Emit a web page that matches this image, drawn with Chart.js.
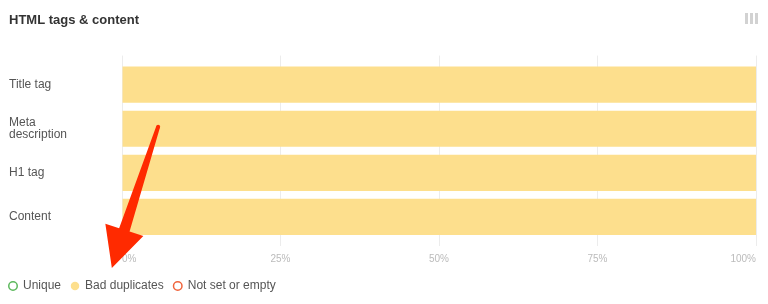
<!DOCTYPE html>
<html>
<head>
<meta charset="utf-8">
<title>HTML tags & content</title>
<script src="https://cdn.jsdelivr.net/npm/chart.js@4.4.1/dist/chart.umd.min.js"></script>
<style>
  body { margin: 0; background: #fff; }
  #wrap { position: relative; width: 768px; height: 304px; }
  .colIcon { position: absolute; top: 13px; width: 3px; height: 11px; background: #d2d2d2; }
</style>
</head>
<body>
<div id="wrap">
  <canvas id="tagsChart" width="768" height="304"></canvas>
  <!-- icone de colunas no canto -->
  <div class="colIcon" style="left:745px"></div>
  <div class="colIcon" style="left:750px"></div>
  <div class="colIcon" style="left:755px"></div>
</div>
<script>
// Dados do grafico
const categories = ['Title tag', ['Meta', 'description'], 'H1 tag', 'Content'];
const uniqueValues = [0, 0, 0, 0];
const badDuplicateValues = [100, 100, 100, 100];
const notSetValues = [0, 0, 0, 0];
const tickStep = 25; // 0%, 25%, 50%, 75%, 100%

Chart.defaults.font.family = '"Liberation Sans", Arial, Helvetica, sans-serif';

// Ajusta a posicao da legenda depois do layout
const shiftPlugin = {
    id: 'shiftLegend',
    afterLayout(chart) {
        chart.legend.left -= 10;
        chart.legend.top -= 2;
    }
};

// Seta vermelha desenhada por cima do grafico
const arrowPlugin = {
    id: 'redArrow',
    afterDraw(chart) {
        const x = chart.scales.x;
        const y = chart.scales.y;
        const tail = { x: x.getPixelForValue(5.7), y: y.getPixelForValue(1) - 2 };
        const tip = { x: x.getPixelForValue(-1.6), y: chart.chartArea.bottom + 29 };
        const dx = tip.x - tail.x, dy = tip.y - tail.y;
        const len = Math.sqrt(dx * dx + dy * dy);
        const ux = dx / len, uy = dy / len;
        const nx = -uy, ny = ux;
        const bx = tail.x + dx * 0.73, by = tail.y + dy * 0.73;
        const ctx = chart.ctx;
        ctx.save();
        ctx.fillStyle = '#ff2a00';
        ctx.beginPath();
        ctx.moveTo(tail.x + nx * 2, tail.y + ny * 2);
        ctx.lineTo(bx + nx * 5.5, by + ny * 5.5);
        ctx.lineTo(bx + nx * 20, by + ny * 20);
        ctx.lineTo(tip.x, tip.y);
        ctx.lineTo(bx - nx * 20, by - ny * 20);
        ctx.lineTo(bx - nx * 5.5, by - ny * 5.5);
        ctx.lineTo(tail.x - nx * 2, tail.y - ny * 2);
        ctx.closePath();
        ctx.fill();
        ctx.beginPath();
        ctx.arc(tail.x, tail.y, 2, 0, Math.PI * 2);
        ctx.fill();
        ctx.restore();
    }
};

const ctx = document.getElementById('tagsChart').getContext('2d');
new Chart(ctx, {
    type: 'bar',
    data: {
        labels: categories,
        datasets: [
            {
                label: 'Unique',
                data: uniqueValues,
                backgroundColor: '#ffffff',
                borderColor: '#5cb85c',
                borderWidth: 1.5
            },
            {
                label: 'Bad duplicates',
                data: badDuplicateValues,
                backgroundColor: '#fddf8d',
                borderColor: '#fddf8d',
                borderWidth: 0
            },
            {
                label: 'Not set or empty',
                data: notSetValues,
                backgroundColor: '#ffffff',
                borderColor: '#f0643c',
                borderWidth: 1.5
            }
        ]
    },
    options: {
        indexAxis: 'y',
        responsive: false,
        animation: false,
        categoryPercentage: 1,
        barPercentage: 0.82,
        layout: { padding: { left: 9, right: 12, top: 0, bottom: 0 } },
        scales: {
            x: {
                stacked: true,
                min: 0,
                max: 100,
                grid: { color: '#ececec', tickLength: 7, drawTicks: true },
                border: { display: false },
                ticks: {
                    stepSize: tickStep,
                    align: 'inner',
                    padding: 7,
                    color: '#bbbbbb',
                    font: { size: 10 },
                    callback: v => v + '%'
                }
            },
            // eixo de cima so para prolongar as linhas de grade
            xTop: {
                position: 'top',
                min: 0,
                max: 100,
                grid: { color: '#ececec', tickLength: 7, drawOnChartArea: false },
                border: { display: false },
                ticks: { display: false, stepSize: tickStep }
            },
            y: {
                stacked: true,
                grid: { display: false },
                border: { display: false },
                afterFit: s => { s.width = 113; },
                ticks: {
                    crossAlign: 'far',
                    color: '#555555',
                    font: { size: 12, lineHeight: 1.05 }
                }
            }
        },
        plugins: {
            title: {
                display: true,
                text: 'HTML tags & content',
                align: 'start',
                color: '#333333',
                font: { size: 13, weight: 'bold' },
                padding: { top: 13, bottom: 27 }
            },
            legend: {
                position: 'bottom',
                align: 'start',
                labels: {
                    usePointStyle: true,
                    pointStyle: 'circle',
                    boxWidth: 8,
                    boxHeight: 6,
                    padding: 10,
                    color: '#555555',
                    font: { size: 12 }
                }
            },
            tooltip: { enabled: false }
        }
    },
    plugins: [shiftPlugin, arrowPlugin]
});
</script>
</body>
</html>
